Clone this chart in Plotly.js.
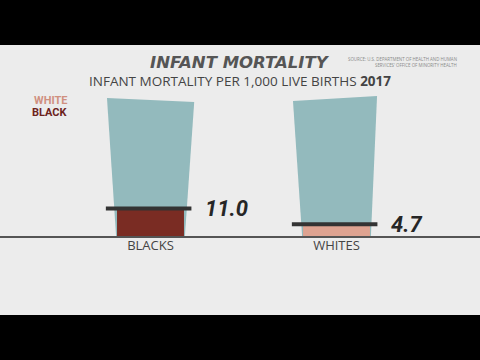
<!DOCTYPE html>
<html>
<head>
<meta charset="utf-8">
<script src="https://cdn.plot.ly/plotly-3.0.1.min.js"></script>
<style>
  html, body { margin: 0; padding: 0; background: #000; width: 480px; height: 360px; overflow: hidden; }
  #chart { position: absolute; left: 0; top: 45px; width: 480px; height: 270px; }
</style>
</head>
<body>
<div id="chart"></div>
<script>
// ---- data ----
const categories = ['BLACKS', 'WHITES'];
const rates = [11.0, 4.7];
const rateLabels = ['11.0', '4.7'];
const liquidColors = ['#7a2c23', '#dea391'];
const legendNames = ['WHITE', 'BLACK'];
const legendColors = ['#d0907f', '#6c231c'];
const titleText = 'INFANT MORTALITY';
const subtitleText = 'INFANT MORTALITY PER 1,000 LIVE BIRTHS <b>2017</b>';
const sourceLines = ['SOURCE: U.S. DEPARTMENT OF HEALTH AND HUMAN', "SERVICES' OFFICE OF MINORITY HEALTH"];

// ---- drawing ----
const PLOT_TOP = 90, BASE = 236, PLOT_H = BASE - PLOT_TOP;  // absolute pixel rows
const py = v => (BASE - v) / PLOT_H;                         // absolute pixel row -> paper y
const xs = categories.map((_, i) => i);
const glassColor = '#93babd';
// glass outline offsets (decoration), per category: [topLeftX, topLeftY, topRightX, topRightY]
const glassTops = [[-0.234, 55.2, 0.235, 53.6], [-0.234, 54.0, 0.218, 56.0]];
const glassBottomHalf = 0.185;

const shapes = [];
xs.forEach((x, i) => {
  const g = glassTops[i];
  const path = `M ${x - glassBottomHalf} 0 L ${x + g[0]} ${g[1]} L ${x + g[2]} ${g[3]} L ${x + glassBottomHalf} 0 Z`;
  shapes.push({ type: 'path', path: path, xref: 'x', yref: 'y', fillcolor: glassColor, line: { width: 0 }, layer: 'below' });
});
// rim lines at liquid level
xs.forEach((x, i) => {
  shapes.push({ type: 'line', xref: 'x', yref: 'y', x0: x - 0.24, x1: x + 0.22, y0: rates[i], y1: rates[i],
    line: { color: '#333333', width: 4 }, layer: 'above' });
});

const annotations = [];
xs.forEach((x, i) => {
  annotations.push({ x: x + 0.28, y: rates[i], xref: 'x', yref: 'y', text: '<b><i>' + rateLabels[i] + '</i></b>',
    showarrow: false, xanchor: 'left', yanchor: 'middle',
    font: { family: 'Roboto', size: 22, color: '#262626' } });
});
annotations.push({ x: 0.5, y: py(63), xref: 'paper', yref: 'paper', text: '<b><i>' + titleText + '</i></b>',
  showarrow: false, xanchor: 'center', yanchor: 'middle', borderpad: 0,
  font: { family: 'DejaVu Sans', size: 16.5, color: '#555555' } });
annotations.push({ x: 0.5, y: py(81), xref: 'paper', yref: 'paper', text: subtitleText,
  showarrow: false, xanchor: 'center', yanchor: 'middle', borderpad: 0,
  font: { family: 'Open Sans', size: 13.5, color: '#444444' } });
sourceLines.forEach((s, k) => {
  annotations.push({ x: 458 / 480, y: py(59 + 5.5 * k), xref: 'paper', yref: 'paper', text: s,
    showarrow: false, xanchor: 'right', yanchor: 'middle', borderpad: 0,
    font: { family: 'Open Sans', size: 4.4, color: '#8a8a8a' } });
});
legendNames.forEach((n, k) => {
  annotations.push({ x: 50 / 480, y: py(100 + 12 * k), xref: 'paper', yref: 'paper', text: '<b>' + n + '</b>',
    showarrow: false, xanchor: 'center', yanchor: 'middle', borderpad: 0,
    font: { family: 'Roboto', size: 11, color: legendColors[k] } });
});

const trace = {
  type: 'bar', x: xs, y: rates, width: 0.36,
  marker: { color: liquidColors, line: { width: 0 } },
  hoverinfo: 'skip'
};

const layout = {
  width: 480, height: 270,
  margin: { l: 0, r: 0, t: PLOT_TOP - 45, b: 315 - BASE },
  paper_bgcolor: '#ececec', plot_bgcolor: '#ececec',
  showlegend: false,
  xaxis: {
    range: [-150.5 / 186, (480 - 150.5) / 186], tickvals: xs, ticktext: categories,
    showgrid: false, zeroline: false, showline: true, linecolor: '#555555', linewidth: 1.5,
    ticks: '', ticklabelstandoff: -3, tickfont: { family: 'Open Sans', size: 13, color: '#444444' }, fixedrange: true
  },
  yaxis: {
    range: [0, PLOT_H / 2.5], showgrid: false, zeroline: false, showticklabels: false, showline: false, fixedrange: true
  },
  shapes: shapes,
  annotations: annotations
};

Plotly.newPlot('chart', [trace], layout, { displayModeBar: false, staticPlot: true });
</script>
</body>
</html>
